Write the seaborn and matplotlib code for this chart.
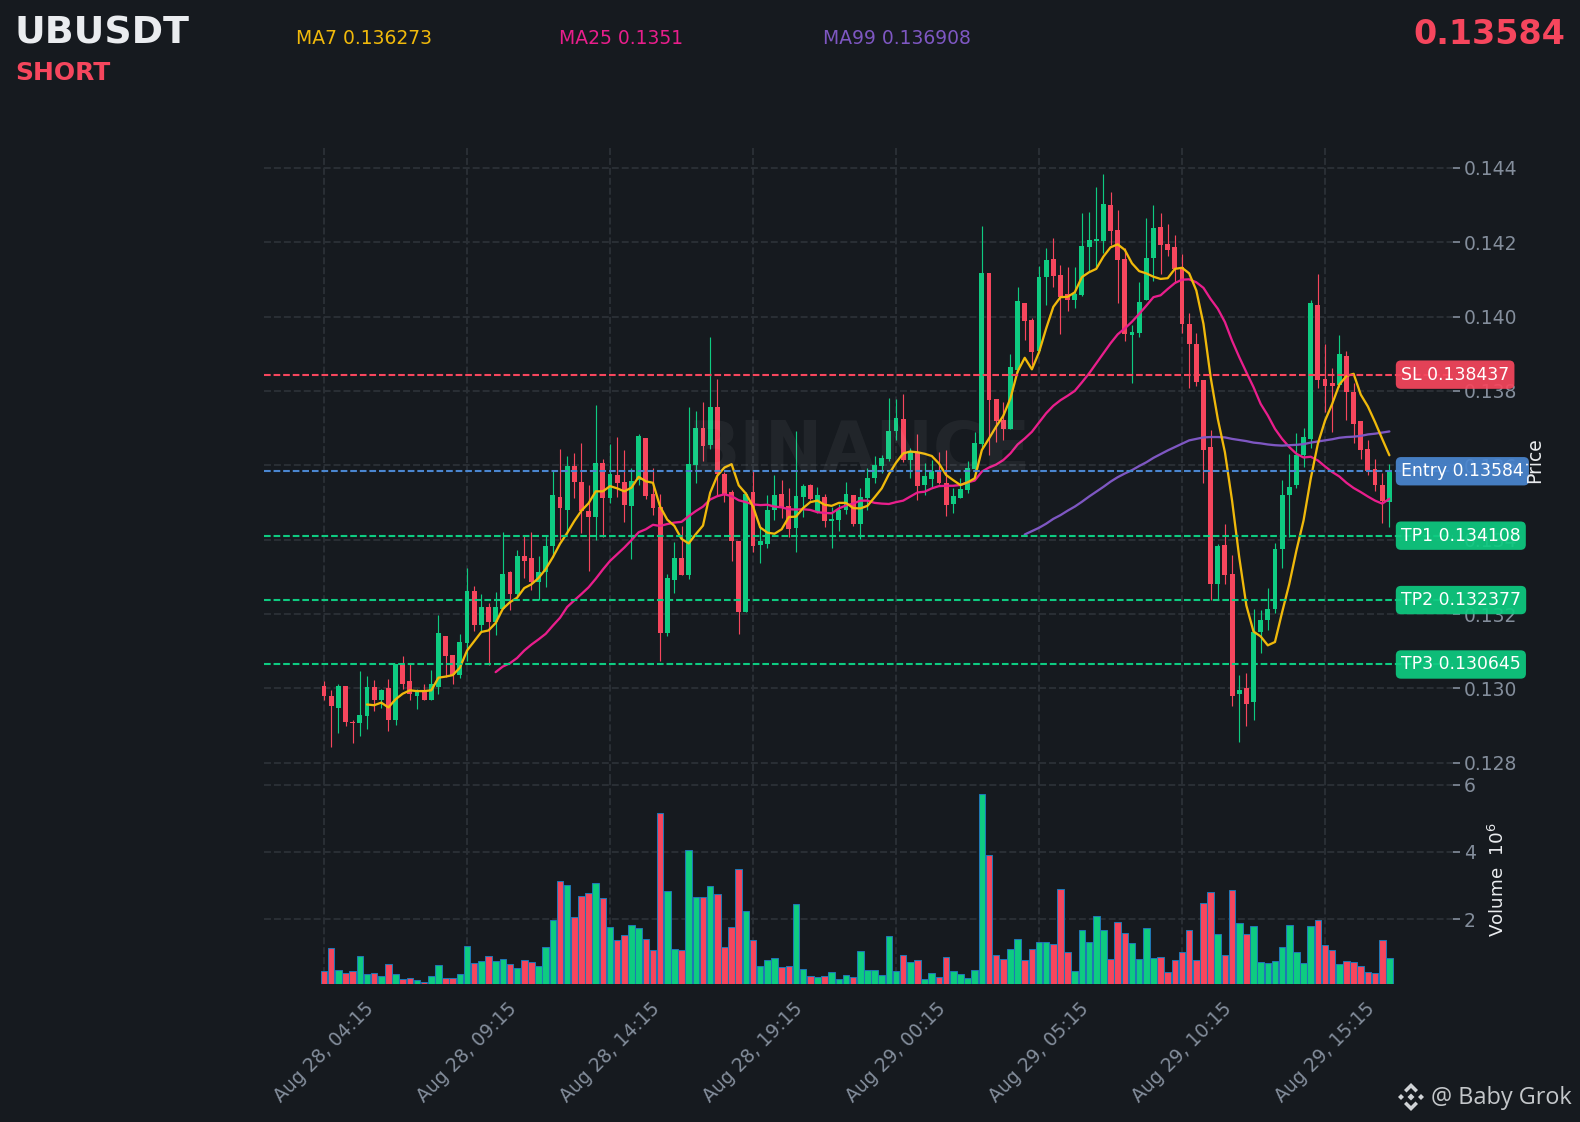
import pandas as pd
import matplotlib
matplotlib.use('Agg')
import matplotlib.pyplot as plt
import matplotlib.transforms as mtrans
from matplotlib.patches import Polygon
import seaborn as sns

# 15 min candles
opens = [.13008,.12981,.12947,.13008,.12911,.12907,.12927,.13003,.12968,.13000,
         .12914,.13065,.13019,.12981,.12997,.12970,.13005,.13142,.13089,.13035,
         .13121,.13263,.13172,.13218,.13180,.13214,.13312,.13253,.13357,.13352,
         .13285,.13314,.13382,.13516,.13481,.13599,.13554,.13476,.13460,.13605,
         .13512,.13574,.13555,.13490,.13560,.13673,.13523,.13489,.13150,.13291,
         .13351,.13305,.13601,.13700,.13654,.13756,.13576,.13528,.13396,.13205,
         .13528,.13385,.13388,.13480,.13523,.13490,.13431,.13514,.13547,.13475,
         .13514,.13450,.13453,.13480,.13520,.13442,.13512,.13566,.13598,.13617,
         .13692,.13724,.13614,.13632,.13547,.13563,.13585,.13552,.13496,.13513,
         .13534,.13590,.13657,.14117,.13778,.13722,.13697,.13856,.14036,.13990,
         .13907,.14106,.14154,.14111,.14060,.14045,.14058,.14187,.14203,.14203,
         .14300,.14232,.14154,.13950,.13956,.14044,.14157,.14240,.14195,.14187,
         .14133,.13981,.13927,.13828,.13648,.13282,.13387,.13309,.12984,.13000,
         .12965,.13151,.13183,.13215,.13374,.13519,.13546,.13629,.13672,.14032,
         .13831,.13820,.13817,.13895,.13798,.13720,.13645,.13589,.13548,.13500]
highs = [.13020,.12995,.13013,.13008,.12916,.13047,.13034,.13023,.12999,.13026,
         .13065,.13086,.13065,.12999,.13013,.13050,.13198,.13142,.13091,.13147,
         .13324,.13276,.13254,.13230,.13260,.13421,.13317,.13371,.13413,.13421,
         .13355,.13413,.13584,.13644,.13626,.13633,.13660,.13547,.13761,.13617,
         .13656,.13675,.13640,.13592,.13684,.13673,.13592,.13524,.13308,.13393,
         .13437,.13756,.13745,.13769,.13944,.13831,.13583,.13533,.13396,.13529,
         .13587,.13435,.13519,.13575,.13560,.13538,.13691,.13551,.13551,.13542,
         .13523,.13489,.13497,.13556,.13520,.13538,.13594,.13624,.13628,.13782,
         .13778,.13793,.13646,.13683,.13605,.13614,.13635,.13641,.13538,.13565,
         .13611,.13689,.14242,.14117,.13778,.13769,.13898,.14078,.14036,.13997,
         .14135,.14183,.14210,.14138,.14133,.14132,.14277,.14281,.14347,.14382,
         .14334,.14285,.14183,.13977,.14092,.14264,.14301,.14277,.14250,.14218,
         .14167,.14009,.13956,.13828,.13694,.13389,.13443,.13359,.13037,.13042,
         .13214,.13211,.13271,.13392,.13561,.13631,.13687,.13701,.14045,.14115,
         .13926,.13862,.13951,.13908,.13822,.13720,.13667,.13617,.13580,.13604]
lows = [.12968,.12842,.12880,.12899,.12854,.12873,.12891,.12939,.12947,.12885,
        .12901,.12999,.12970,.12944,.12970,.12969,.12986,.13032,.13012,.13029,
        .13075,.13154,.13151,.13062,.13143,.13214,.13211,.13246,.13297,.13265,
        .13237,.13272,.13353,.13398,.13416,.13512,.13418,.13315,.13400,.13407,
        .13499,.13515,.13448,.13349,.13546,.13510,.13466,.13075,.13142,.13257,
        .13305,.13295,.13553,.13612,.13643,.13520,.13502,.13343,.13147,.13205,
        .13368,.13338,.13379,.13453,.13457,.13408,.13368,.13462,.13506,.13471,
        .13435,.13378,.13424,.13469,.13437,.13401,.13480,.13553,.13578,.13612,
        .13668,.13610,.13567,.13508,.13520,.13542,.13549,.13465,.13473,.13511,
        .13525,.13574,.13646,.13628,.13663,.13668,.13697,.13852,.13937,.13870,
        .13905,.14031,.14080,.13953,.14015,.14024,.14056,.14120,.14129,.14170,
        .14192,.14037,.13935,.13822,.13946,.14044,.14096,.14115,.14163,.14092,
        .13956,.13808,.13814,.13552,.13238,.13238,.13281,.12953,.12856,.12899,
        .12916,.13095,.13156,.13202,.13323,.13407,.13538,.13595,.13646,.13808,
        .13743,.13689,.13810,.13723,.13659,.13616,.13573,.13532,.13446,.13434]
closes = [.12981,.12954,.13008,.12911,.12907,.12930,.13003,.12968,.12997,.12914,
          .13065,.13013,.12986,.12995,.12970,.13011,.13148,.13086,.13035,.13126,
          .13263,.13172,.13218,.13180,.13220,.13309,.13253,.13357,.13344,.13285,
          .13314,.13382,.13519,.13484,.13597,.13554,.13476,.13462,.13607,.13511,
          .13576,.13552,.13493,.13557,.13678,.13517,.13485,.13150,.13297,.13351,
          .13305,.13603,.13700,.13652,.13756,.13576,.13524,.13396,.13205,.13524,
          .13383,.13396,.13480,.13520,.13489,.13428,.13517,.13544,.13509,.13520,
          .13450,.13455,.13480,.13523,.13442,.13514,.13566,.13601,.13619,.13692,
          .13726,.13614,.13635,.13544,.13571,.13585,.13552,.13493,.13517,.13536,
          .13593,.13660,.14117,.13775,.13719,.13697,.13864,.14042,.13988,.13904,
          .14106,.14152,.14109,.14052,.14045,.14060,.14189,.14206,.14208,.14302,
          .14230,.14152,.13953,.13958,.14039,.14157,.14238,.14192,.14179,.14129,
          .13981,.13925,.13825,.13642,.13282,.13384,.13306,.12981,.12997,.12957,
          .13151,.13183,.13215,.13374,.13521,.13543,.13629,.13677,.14035,.13828,
          .13814,.13814,.13900,.13796,.13712,.13640,.13586,.13546,.13503,.13584]
# volume in millions
volumes = [.44,1.15,.47,.38,.44,.89,.35,.38,.29,.65,
           .35,.20,.23,.17,.11,.29,.62,.23,.23,.35,
           1.19,.68,.74,.89,.74,.80,.65,.53,.77,.71,
           .59,1.16,1.96,3.12,3.00,2.05,2.70,2.76,3.06,2.62,
           1.75,1.36,1.51,1.81,1.72,1.39,1.07,5.15,2.82,1.10,
           1.07,4.07,2.65,2.67,2.97,2.73,1.16,1.75,3.48,2.23,
           1.36,.59,.77,.83,.56,.59,2.44,.50,.29,.26,
           .29,.41,.20,.32,.26,1.04,.47,.47,.32,1.48,
           .44,.92,.71,.77,.20,.38,.26,.86,.44,.35,
           .23,.47,5.71,3.90,.92,.80,1.10,1.39,.77,1.10,
           1.33,1.33,1.25,2.88,1.01,.44,1.66,1.33,2.08,1.66,
           .80,1.90,1.57,1.28,.80,1.72,.83,.86,.41,.77,
           1.01,1.66,.77,2.47,2.79,1.54,.92,2.85,1.87,1.54,
           1.78,.71,.68,.74,1.16,1.81,1.01,.68,1.78,1.96,
           1.22,1.07,.65,.74,.71,.59,.41,.38,1.36,.83]

# moving averages (they start at candle 6, 24 and 98)
ma7 = [.12957,.12955,.12962,.12949,.12971,.12986,.12995,.12993,.12993,.12995,
       .13029,.13032,.13036,.13056,.13102,.13127,.13152,.13156,.13176,.13214,
       .13232,.13244,.13270,.13280,.13297,.13321,.13353,.13389,.13418,.13450,
       .13478,.13498,.13530,.13530,.13544,.13538,.13530,.13540,.13569,.13557,
       .13553,.13489,.13454,.13437,.13402,.13390,.13415,.13438,.13526,.13572,
       .13594,.13603,.13546,.13524,.13489,.13433,.13419,.13416,.13428,.13461,
       .13462,.13485,.13501,.13505,.13494,.13491,.13499,.13499,.13485,.13484,
       .13491,.13514,.13538,.13576,.13607,.13632,.13637,.13635,.13631,.13625,
       .13605,.13574,.13560,.13547,.13554,.13565,.13641,.13672,.13704,.13733,
       .13780,.13852,.13889,.13858,.13904,.13968,.14026,.14052,.14053,.14065,
       .14106,.14119,.14128,.14161,.14186,.14194,.14179,.14143,.14122,.14116,
       .14107,.14101,.14103,.14128,.14131,.14116,.14070,.13980,.13837,.13725,
       .13635,.13505,.13353,.13223,.13153,.13140,.13116,.13125,.13205,.13281,
       .13371,.13452,.13564,.13658,.13720,.13765,.13817,.13840,.13846,.13790,
       .13758,.13716,.13671,.13627]
ma25 = [.13044,.13059,.13068,.13082,.13102,.13118,.13132,.13147,.13169,.13190,
        .13219,.13237,.13254,.13272,.13295,.13320,.13343,.13361,.13379,.13399,
        .13420,.13428,.13440,.13437,.13442,.13446,.13448,.13463,.13477,.13489,
        .13508,.13517,.13522,.13517,.13506,.13501,.13495,.13493,.13494,.13489,
        .13487,.13482,.13481,.13482,.13480,.13474,.13472,.13471,.13484,.13492,
        .13497,.13505,.13505,.13499,.13497,.13496,.13501,.13505,.13516,.13527,
        .13529,.13538,.13544,.13545,.13545,.13547,.13554,.13559,.13583,.13594,
        .13602,.13614,.13632,.13656,.13672,.13690,.13715,.13740,.13760,.13775,
        .13787,.13800,.13823,.13847,.13874,.13901,.13928,.13952,.13968,.13986,
        .14007,.14029,.14052,.14057,.14074,.14090,.14099,.14100,.14092,.14077,
        .14047,.14021,.13985,.13935,.13891,.13850,.13810,.13765,.13734,.13698,
        .13671,.13649,.13631,.13621,.13623,.13613,.13597,.13582,.13570,.13553,
        .13539,.13528,.13516,.13505,.13497,.13510]
ma99 = [.13414,.13423,.13432,.13443,.13456,.13466,.13478,.13489,.13502,.13516,
        .13529,.13542,.13556,.13568,.13578,.13587,.13598,.13608,.13620,.13630,
        .13640,.13649,.13658,.13667,.13671,.13675,.13676,.13676,.13675,.13671,
        .13668,.13665,.13661,.13659,.13656,.13654,.13653,.13654,.13655,.13657,
        .13661,.13664,.13667,.13670,.13674,.13676,.13677,.13679,.13683,.13685,
        .13688,.13691]

tick_labels = ['Aug 28, 04:15', 'Aug 28, 09:15', 'Aug 28, 14:15', 'Aug 28, 19:15',
               'Aug 29, 00:15', 'Aug 29, 05:15', 'Aug 29, 10:15', 'Aug 29, 15:15']
tick_pos = [0, 20, 40, 60, 80, 100, 120, 140]
price_ticks = [0.128, 0.130, 0.132, 0.134, 0.136, 0.138, 0.140, 0.142, 0.144]
volume_ticks = [2, 4, 6]

level_values = [0.138437, 0.13584, 0.134108, 0.132377, 0.130645]
level_text = ['SL 0.138437', 'Entry 0.13584', 'TP1 0.134108', 'TP2 0.132377', 'TP3 0.130645']

BG = '#161a1f'
GRID = '#2b3036'
GREY = '#848e9c'
RED = '#f6465d'
GREEN = '#0ecb81'
BLUE = '#4a86d0'
YELLOW = '#f0b90b'
PINK = '#e91e8c'
PURPLE = '#7e57c2'
level_colors = [RED, BLUE, GREEN, GREEN, GREEN]
W, H = 1581, 1122

sns.set_theme(style='dark', rc={'figure.facecolor': BG, 'axes.facecolor': BG,
                                'savefig.facecolor': BG})

df = pd.DataFrame({'idx': range(len(opens)), 'open': opens, 'high': highs,
                   'low': lows, 'close': closes, 'volume': volumes})
df['side'] = ['up' if c >= o else 'down' for o, c in zip(df['open'], df['close'])]
df['color'] = df['side'].map({'up': GREEN, 'down': RED})

fig = plt.figure(figsize=(W / 150, H / 150), dpi=150)
left, right = 264 / W, 1453 / W
ax = fig.add_axes([left, 1 - 781 / H, right - left, (781 - 148) / H])
ax_vol = fig.add_axes([left, 1 - 984 / H, right - left, (984 - 781) / H], sharex=ax)

# watermark goes under the candles
fig.text(859 / W, 1 - 451 / H, 'BINANCE', color='white', alpha=0.05, fontsize=33,
         fontweight='bold', ha='center', va='center', zorder=0)
ax.patch.set_alpha(0)

# candles
ax.vlines(df['idx'], df['low'], df['high'], colors=df['color'], lw=0.55, zorder=3)
ax.bar(df['idx'], (df['close'] - df['open']).abs(), bottom=df[['open', 'close']].min(axis=1),
       width=0.68, color=df['color'], linewidth=0, zorder=4)

# moving averages
sns.lineplot(x=df['idx'].values[6:], y=ma7, color=YELLOW, lw=1.1, ax=ax, zorder=6, errorbar=None)
sns.lineplot(x=df['idx'].values[24:], y=ma25, color=PINK, lw=1.1, ax=ax, zorder=5, errorbar=None)
sns.lineplot(x=df['idx'].values[98:], y=ma99, color=PURPLE, lw=1.1, ax=ax, zorder=5, errorbar=None)

# volume panel
sns.barplot(data=df, x='idx', y='volume', hue='side', palette={'up': GREEN, 'down': RED},
            native_scale=True, dodge=False, width=0.92, saturation=1, edgecolor='#1f77b4',
            linewidth=0.5, legend=False, ax=ax_vol, zorder=3)

# entry, stop and target levels
bt = mtrans.blended_transform_factory(fig.transFigure, ax.transData)
for val, col, txt in zip(level_values, level_colors, level_text):
    ax.axhline(val, color=col, lw=1.0, ls=(0, (3.2, 1.4)), zorder=7)
    ax.text(1401 / W, val, txt, transform=bt, color='white', fontsize=8.3, va='center', ha='left',
            clip_on=False, zorder=20,
            bbox=dict(boxstyle='round,pad=0.3', fc=col, ec='none', alpha=0.92))

for a in (ax, ax_vol):
    a.set_xlim(-8.4, 157.9)
    a.set_xlabel('')
    a.set_ylabel('')
    a.grid(True, color=GRID, ls='--', lw=0.9)
    a.set_axisbelow(True)
    a.yaxis.tick_right()
    a.tick_params(axis='both', colors=GREY, labelsize=9, length=3.5, width=0.8)
    a.tick_params(axis='y', pad=1.6)
    for s in a.spines.values():
        s.set_visible(False)

ax.set_ylim(0.127513, 0.14453)
ax.set_yticks(price_ticks)
ax.set_yticklabels(['%.3f' % t for t in price_ticks])
ax.tick_params(axis='x', length=0, labelbottom=False)

ax_vol.set_ylim(0.0645, 6.11)
ax_vol.set_yticks(volume_ticks)
ax_vol.set_yticklabels([str(t) for t in volume_ticks])
ax_vol.set_xticks(tick_pos)
ax_vol.set_xticklabels(tick_labels, rotation=45, ha='center')
ax_vol.tick_params(axis='x', pad=3.7)

# header
fig.text(15 / W, 1 - 33 / H, 'UBUSDT', color='#eaecef', fontsize=18.2, fontweight='bold', va='center')
fig.text(15 / W, 1 - 73 / H, 'SHORT', color=RED, fontsize=12, fontweight='bold', va='center')
fig.text(1565 / W, 1 - 35 / H, '0.13584', color=RED, fontsize=16, fontweight='bold', va='center', ha='right')
fig.text(295.5 / W, 1 - 38 / H, 'MA7 0.136273', color=YELLOW, fontsize=9, va='center')
fig.text(559.5 / W, 1 - 38 / H, 'MA25 0.1351', color=PINK, fontsize=9, va='center')
fig.text(823.5 / W, 1 - 38 / H, 'MA99 0.136908', color=PURPLE, fontsize=9, va='center')

# axis titles
fig.text(1535 / W, 1 - 460 / H, 'Price', color='#eaecef', fontsize=9, rotation=90, ha='center', va='center')
fig.text(1498 / W, 1 - 880 / H, 'Volume  $10^{6}$', color='#eaecef', fontsize=8.8, rotation=90, ha='center', va='center')

# footer mark with the little logo
logo = fig.add_axes([1397 / W, 1 - 1111 / H, 28 / W, 28 / H])
logo.set_xlim(-14, 14)
logo.set_ylim(-14, 14)
logo.axis('off')
shapes = [[(-13, 0), (-10, 3), (-7, 0), (-10, -3)],
          [(13, 0), (10, 3), (7, 0), (10, -3)],
          [(0, 3.5), (3.5, 0), (0, -3.5), (-3.5, 0)],
          [(0, 14), (7, 7), (4.5, 4.5), (0, 9), (-4.5, 4.5), (-7, 7)],
          [(0, -14), (7, -7), (4.5, -4.5), (0, -9), (-4.5, -4.5), (-7, -7)]]
for pts in shapes:
    logo.add_patch(Polygon(pts, closed=True, fc='#d0d3d6', ec='none'))
fig.text(1431 / W, 1 - 1098 / H, '@ Baby Grok', color='#c4c7ca', fontsize=11.3, va='center',
         family='Open Sans')

fig.savefig('out.png', dpi=150, facecolor=BG)
